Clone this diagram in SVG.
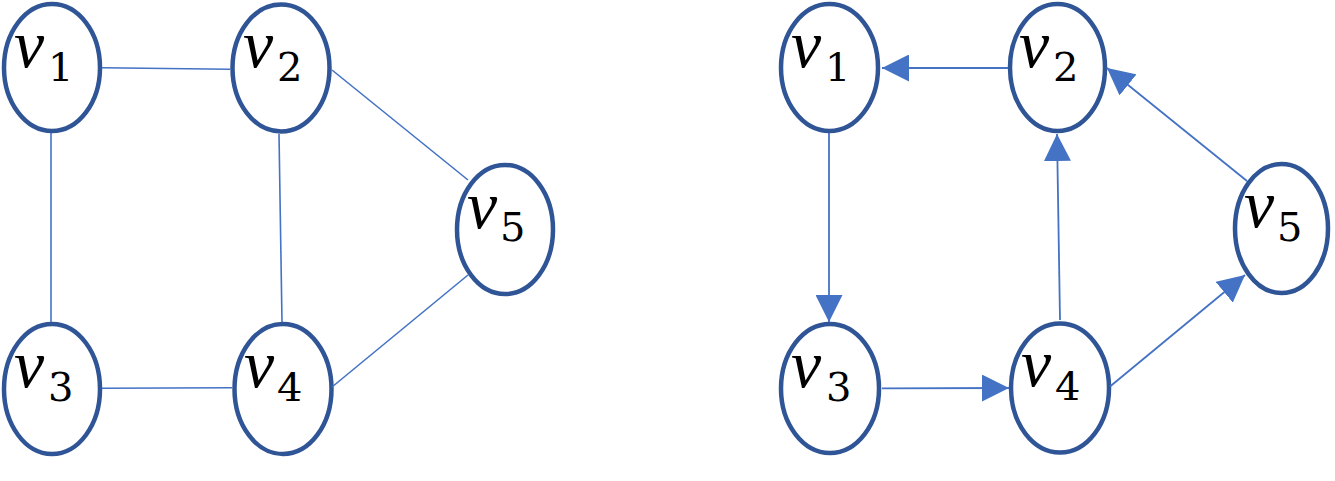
<svg xmlns="http://www.w3.org/2000/svg" width="1335" height="481" viewBox="0 0 1335 481">
<style>
.node ellipse{fill:#ffffff;stroke:#2F5597;stroke-width:4.5}
.v{font-family:"Liberation Serif",serif;font-style:italic;font-size:68px;fill:#000}
.s{font-family:"DejaVu Serif",serif;font-size:40px;fill:#000}
.edge{stroke:#4472C4;stroke-width:1.6;fill:none}
.arc{stroke:#4472C4;stroke-width:1.8;fill:none;marker-end:url(#ah)}
</style>
<defs>
<marker id="ah" viewBox="0 0 27 27" markerWidth="27" markerHeight="27" markerUnits="userSpaceOnUse" refX="27" refY="13.5" orient="auto">
<path d="M0,0 L27,13.5 L0,27 z" fill="#4472C4"/>
</marker>
</defs>
<rect width="1335" height="481" fill="#ffffff"/>
<!-- left graph nodes -->
<g id="L1" class="node"><ellipse cx="52" cy="67.5" rx="48" ry="63.5"/><text class="v" x="14" y="67">v</text><text class="s" x="48" y="81">1</text></g>
<g id="L2" class="node"><ellipse cx="281" cy="68" rx="48.5" ry="63.5"/><text class="v" x="243" y="67">v</text><text class="s" x="277" y="81">2</text></g>
<g id="L3" class="node"><ellipse cx="52" cy="389" rx="48" ry="65"/><text class="v" x="14" y="387">v</text><text class="s" x="48" y="401">3</text></g>
<g id="L4" class="node"><ellipse cx="283" cy="389" rx="48.5" ry="65"/><text class="v" x="244" y="387">v</text><text class="s" x="277" y="401">4</text></g>
<g id="L5" class="node"><ellipse cx="505" cy="229.5" rx="48" ry="64.5"/><text class="v" x="467" y="228">v</text><text class="s" x="500" y="241">5</text></g>
<!-- right graph nodes -->
<g id="R1" class="node"><ellipse cx="829.5" cy="67.5" rx="48.5" ry="63.5"/><text class="v" x="791" y="67">v</text><text class="s" x="825" y="81">1</text></g>
<g id="R2" class="node"><ellipse cx="1057.5" cy="67.5" rx="47.5" ry="63.5"/><text class="v" x="1019" y="67">v</text><text class="s" x="1053" y="81">2</text></g>
<g id="R3" class="node"><ellipse cx="830" cy="388.5" rx="49" ry="64.5"/><text class="v" x="791" y="387">v</text><text class="s" x="826" y="401">3</text></g>
<g id="R4" class="node"><ellipse cx="1060" cy="388" rx="49" ry="64.5"/><text class="v" x="1021" y="386">v</text><text class="s" x="1055" y="400">4</text></g>
<g id="R5" class="node"><ellipse cx="1281.5" cy="228.5" rx="46.5" ry="64.5"/><text class="v" x="1244" y="227">v</text><text class="s" x="1277" y="241">5</text></g>
<!-- connectors -->
<g id="connectors">
<line class="edge" x1="102" y1="67.7" x2="230" y2="69.3"/>
<line class="edge" x1="51" y1="133" x2="51" y2="322"/>
<line class="edge" x1="279" y1="134" x2="282" y2="322"/>
<line class="edge" x1="332" y1="70" x2="468" y2="180"/>
<line class="edge" x1="102" y1="388.3" x2="232" y2="387.7"/>
<line class="edge" x1="332" y1="387" x2="468" y2="275"/>
<line class="arc" x1="1008" y1="68" x2="882" y2="68"/>
<line class="arc" x1="829" y1="133" x2="829" y2="322"/>
<line class="arc" x1="882" y1="388.3" x2="1009" y2="388"/>
<line class="arc" x1="1060" y1="320" x2="1057" y2="134"/>
<line class="arc" x1="1247" y1="181" x2="1107" y2="68"/>
<line class="arc" x1="1110" y1="386.5" x2="1245" y2="275"/>
</g>
</svg>
